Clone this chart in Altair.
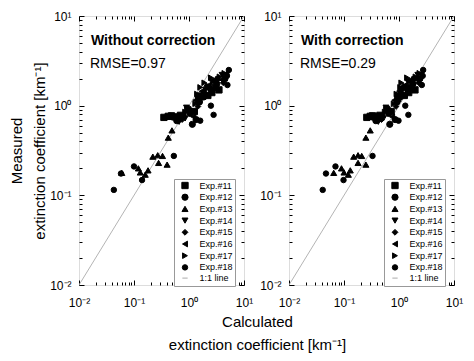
import altair as alt
import pandas as pd

# ---------------- data ----------------
exp_ids = [18, 13, 18, 18, 13, 13, 13, 13, 18, 13, 13, 13, 13, 13, 18, 13, 13,
           11, 11, 11, 11, 11, 11, 12, 14, 15, 16, 17, 11, 12, 14, 15, 16, 12, 18,
           18, 18, 17, 15, 11, 12, 14,
           11, 17, 16, 17, 14, 15, 11, 12, 18, 17, 16, 14, 15, 11, 12, 18, 17, 16,
           14, 15, 12, 18, 18, 11, 16, 17, 15, 14, 12, 11, 16, 17, 18]
measured = [0.115, 0.178, 0.175, 0.21, 0.20, 0.18, 0.17, 0.19, 0.148, 0.27, 0.28, 0.275, 0.23, 0.22, 0.275, 0.44, 0.53,
            0.74, 0.76, 0.77, 0.75, 0.72, 0.78, 0.68, 0.66, 0.70, 0.80, 0.85, 0.90, 0.82, 0.95, 0.88, 0.75, 0.70, 0.68,
            0.79, 1.00, 1.05, 0.98, 0.86, 0.62, 0.72,
            1.20, 1.35, 1.45, 1.60, 1.50, 1.40, 1.30, 1.25, 1.55, 1.80, 1.70, 1.85, 1.90, 1.60, 1.75, 2.00, 2.10, 1.95,
            2.20, 1.80, 2.00, 2.50, 1.70, 1.50, 2.30, 2.05, 1.65, 1.30, 1.10, 1.40, 1.15, 2.30, 2.15]
calc_without = [0.043, 0.060, 0.058, 0.10, 0.12, 0.13, 0.16, 0.18, 0.14, 0.22, 0.27, 0.33, 0.28, 0.40, 0.53, 0.42, 0.49,
                0.35, 0.42, 0.48, 0.55, 0.62, 0.70, 0.60, 0.66, 0.75, 0.80, 0.85, 0.95, 1.05, 0.90, 1.10, 1.20, 1.35, 1.60,
                2.80, 2.50, 1.30, 1.45, 1.25, 1.15, 0.85,
                1.50, 1.40, 1.70, 1.60, 2.00, 1.90, 2.20, 1.85, 2.40, 1.90, 2.30, 2.60, 2.80, 3.00, 3.20, 3.30, 3.60, 3.90,
                4.00, 4.20, 4.50, 5.30, 5.00, 3.50, 4.80, 2.50, 2.10, 1.60, 1.55, 2.60, 1.30, 4.40, 4.90]
calc_with = [0.041, 0.065, 0.047, 0.070, 0.090, 0.10, 0.12, 0.13, 0.098, 0.15, 0.18, 0.21, 0.18, 0.25, 0.33, 0.25, 0.30,
             0.26, 0.30, 0.33, 0.36, 0.40, 0.45, 0.38, 0.42, 0.48, 0.50, 0.55, 0.60, 0.65, 0.58, 0.70, 0.75, 0.85, 0.98,
             1.48, 1.30, 0.80, 0.88, 0.72, 0.68, 0.52,
             0.95, 0.90, 1.00, 1.05, 1.15, 1.10, 1.25, 1.05, 1.35, 1.10, 1.30, 1.45, 1.55, 1.65, 1.80, 1.85, 2.00, 2.10,
             2.20, 2.30, 2.40, 2.75, 2.60, 1.95, 2.55, 1.40, 1.20, 0.95, 0.92, 1.50, 0.82, 2.35, 2.70]

experiments = ["Exp.#11", "Exp.#12", "Exp.#13", "Exp.#14", "Exp.#15", "Exp.#16", "Exp.#17", "Exp.#18"]
legend_domain = experiments + ["1:1 line"]
shapes = ["square", "circle", "triangle-up", "triangle-down", "diamond",
          "triangle-left", "triangle-right", "circle", "stroke"]
sizes = [40, 28, 48, 48, 50, 48, 48, 55, 400]
colors = ["black"] * 8 + ["#aaaaaa"]

one_to_one = [0.01, 10]
tick_values = [m * 10.0 ** e for e in (-2, -1, 0) for m in range(1, 10)] + [10.0]
decade_labels = ["10⁻²", "10⁻¹", "10⁰", "10¹"]

panel_titles = ["Without correction", "With correction"]
rmse_texts = ["RMSE=0.97", "RMSE=0.29"]
x_title = ["Calculated", "extinction coefficient [km⁻¹]"]
y_title = ["Measured", "extinction coefficient [km⁻¹]"]

# ---------------- layout ----------------
W, H = 165, 269
FONT = "Liberation Sans"
MAJOR = "abs(log(datum.value)/LN10 - round(log(datum.value)/LN10)) < 0.001"
LABEL_EXPR = ("(" + MAJOR + ") ? " + str(decade_labels) +
              "[round(log(datum.value)/LN10) + 2] : ''")
TICK_SIZE = {"condition": {"test": MAJOR, "value": 5}, "value": 3}


def scale():
    return alt.Scale(type="log", domain=[0.01, 10], nice=False)


def label_axis(orient, title=None, **kw):
    args = dict(orient=orient, values=tick_values, labelExpr=LABEL_EXPR, ticks=False,
                domain=False, grid=False, labelFontSize=12, labelFont=FONT,
                labelColor="black", labelOverlap=False, labelFlush=False,
                labelPadding=12 if orient == "bottom" else 8)
    if title is not None:
        args.update(title=title, titleFontSize=15, titleFont=FONT, titleFontWeight="normal",
                    titleColor="black", titleLineHeight=23)
    else:
        args.update(title=None)
    args.update(kw)
    return alt.Axis(**args)


def tick_axis(orient, offset):
    return alt.Axis(orient=orient, offset=offset, values=tick_values, labels=False, domain=False,
                    grid=False, title=None, tickSize=TICK_SIZE, tickColor="black", tickWidth=1)


legend = alt.Legend(title=None, orient="none", legendX=95, legendY=163, strokeColor="#999999",
                    fillColor="white", padding=2, labelFontSize=9, labelFont=FONT,
                    labelColor="black", rowPadding=0.7, labelOffset=10, symbolOffset=4.5,
                    symbolSize=64, symbolFillColor="black", symbolStrokeWidth=1)


def panel(calc, idx):
    df = pd.DataFrame({"calc": calc, "meas": measured,
                       "exp": ["Exp.#%d" % e for e in exp_ids]})
    line_df = pd.DataFrame({"calc": one_to_one, "meas": one_to_one})

    if idx == 0:
        xa = label_axis("bottom", x_title, titleX=178, titlePadding=6)
        ya = label_axis("left", y_title, titlePadding=2)
    else:
        xa = label_axis("bottom")
        ya = label_axis("left")

    line = alt.Chart(line_df).mark_line(color="#b4b4b4", strokeWidth=1, clip=True).encode(
        x=alt.X("calc:Q", scale=scale(), axis=xa),
        y=alt.Y("meas:Q", scale=scale(), axis=ya),
    )
    ticks_a = alt.Chart(line_df).mark_line(opacity=0).encode(
        x=alt.X("calc:Q", scale=scale(), axis=tick_axis("top", -H)),
        y=alt.Y("meas:Q", scale=scale(), axis=tick_axis("right", -W)),
    )
    ticks_b = alt.Chart(line_df).mark_line(opacity=0).encode(
        x=alt.X("calc:Q", scale=scale(), axis=tick_axis("bottom", -H)),
        y=alt.Y("meas:Q", scale=scale(), axis=tick_axis("left", -W)),
    )
    points = alt.Chart(df).mark_point(filled=False, fill="black", fillOpacity=1, opacity=1,
                                      strokeWidth=1).encode(
        x=alt.X("calc:Q", scale=scale(), axis=None),
        y=alt.Y("meas:Q", scale=scale(), axis=None),
        shape=alt.Shape("exp:N", scale=alt.Scale(domain=legend_domain, range=shapes), legend=legend),
        size=alt.Size("exp:N", scale=alt.Scale(domain=legend_domain, range=sizes), legend=legend),
        color=alt.Color("exp:N", scale=alt.Scale(domain=legend_domain, range=colors), legend=legend),
    )
    ttl = alt.Chart(pd.DataFrame({"t": [panel_titles[idx]]})).mark_text(
        align="left", baseline="middle", font=FONT, fontSize=14, fontWeight="bold", color="black"
    ).encode(x=alt.value(12), y=alt.value(25), text="t:N")
    rmse = alt.Chart(pd.DataFrame({"t": [rmse_texts[idx]]})).mark_text(
        align="left", baseline="middle", font=FONT, fontSize=14, color="black"
    ).encode(x=alt.value(11), y=alt.value(48), text="t:N")

    return alt.layer(line, ticks_a, ticks_b, points, ttl, rmse).resolve_axis(
        x="independent", y="independent").properties(width=W, height=H)


chart = alt.hconcat(panel(calc_without, 0), panel(calc_with, 1), spacing=45,
                    bounds="flush").resolve_scale(
    shape="independent", size="independent", color="independent").resolve_legend(
    shape="independent", size="independent", color="independent").properties(
    padding={"left": 1, "top": 1, "right": 0, "bottom": 0}
).configure_view(stroke="black", strokeWidth=1).configure(font=FONT)

chart.save("out.html", embed_options={"renderer": "svg", "actions": False})
